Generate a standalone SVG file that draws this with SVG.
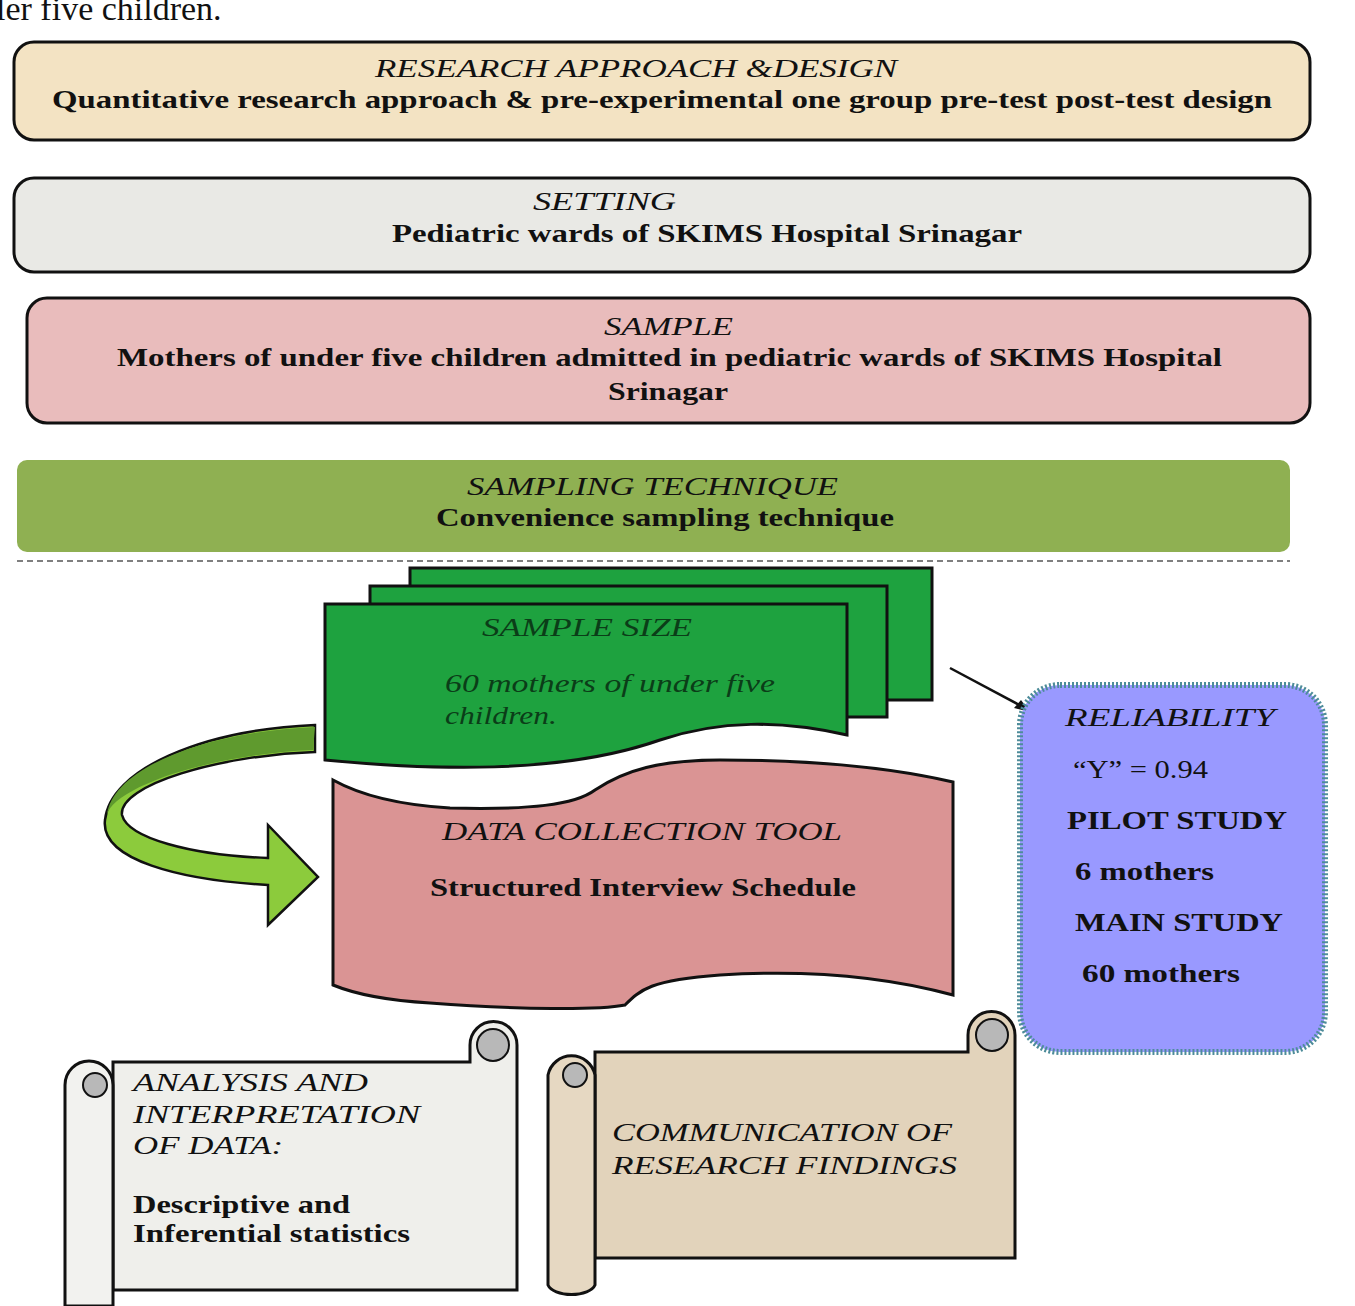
<svg xmlns="http://www.w3.org/2000/svg" width="1355" height="1306" viewBox="0 0 1355 1306">
<style>
text{font-family:"Liberation Serif","Times New Roman",serif;fill:#111;font-size:26px}
.t{font-style:italic}
.b{font-weight:bold}
.box{stroke:#111;stroke-width:3}
</style>
<rect width="1355" height="1306" fill="#fff"/>
<text x="-4" y="20" style="font-size:34px">ler five children.</text>
<g id="approach">
<rect class="box" x="14" y="42" width="1296" height="98" rx="20" fill="#f3e3c3"/>
<text class="t" x="375" y="77" textLength="522" lengthAdjust="spacingAndGlyphs">RESEARCH APPROACH &amp;DESIGN</text>
<text class="b" x="52" y="108" textLength="1220" lengthAdjust="spacingAndGlyphs">Quantitative research approach &amp; pre-experimental one group pre-test post-test design</text>
</g>
<g id="setting">
<rect class="box" x="14" y="178" width="1296" height="94" rx="20" fill="#e9e9e5"/>
<text class="t" x="533" y="210" textLength="143" lengthAdjust="spacingAndGlyphs">SETTING</text>
<text class="b" x="392" y="242" textLength="630" lengthAdjust="spacingAndGlyphs">Pediatric wards of SKIMS Hospital Srinagar</text>
</g>
<g id="sample">
<rect class="box" x="27" y="298" width="1283" height="125" rx="20" fill="#e9bcbc"/>
<text class="t" x="604" y="335" textLength="129" lengthAdjust="spacingAndGlyphs">SAMPLE</text>
<text class="b" x="117" y="366" textLength="1105" lengthAdjust="spacingAndGlyphs">Mothers of under five children admitted in pediatric wards of SKIMS Hospital</text>
<text class="b" x="608" y="400" textLength="120" lengthAdjust="spacingAndGlyphs">Srinagar</text>
</g>
<g id="technique">
<rect x="17" y="460" width="1273" height="92" rx="10" fill="#8fb052"/>
<line x1="17" y1="561" x2="1290" y2="561" stroke="#555" stroke-width="1.5" stroke-dasharray="6,4"/>
<text class="t" x="467" y="495" textLength="371" lengthAdjust="spacingAndGlyphs">SAMPLING TECHNIQUE</text>
<text class="b" x="436" y="526" textLength="458" lengthAdjust="spacingAndGlyphs">Convenience sampling technique</text>
</g>
<g id="samplesize" stroke="#111" stroke-width="3" fill="#1ea23f">
<path d="M410 568H932V700H410Z"/>
<path d="M370 586H887V717H370Z"/>
<path d="M325 604H847V735C780 720 720 720 660 740C560 775 430 770 325 760Z"/>
<text class="t" x="482" y="636" stroke="none" style="fill:#0b3d18" textLength="210" lengthAdjust="spacingAndGlyphs">SAMPLE SIZE</text>
<text class="t" x="445" y="692" stroke="none" style="fill:#0b3d18" textLength="330" lengthAdjust="spacingAndGlyphs">60 mothers of under five</text>
<text class="t" x="445" y="724" stroke="none" style="fill:#0b3d18" textLength="112" lengthAdjust="spacingAndGlyphs">children.</text>
</g>
<g id="datatool">
<path d="M333 780C360 795 400 805 450 808C530 810 575 805 595 790C625 770 660 760 720 760C800 760 880 765 953 782V995C880 975 800 970 720 975C650 980 640 990 625 1005C600 1010 520 1010 430 1003C380 1000 350 992 333 985Z" fill="#da9494" stroke="#111" stroke-width="3"/>
<text class="t" x="442" y="840" textLength="400" lengthAdjust="spacingAndGlyphs">DATA COLLECTION TOOL</text>
<text class="b" x="430" y="896" textLength="426" lengthAdjust="spacingAndGlyphs">Structured Interview Schedule</text>
</g>
<g id="connectors">
<path d="M315 725C200 730 110 770 105 820C100 860 180 880 268 885V925L318 877L268 825V858C190 855 128 838 122 815C118 785 220 755 315 752Z" fill="#8ccb3c" stroke="#111" stroke-width="2.5"/>
<path d="M315 727C200 732 112 770 107 815C112 790 200 755 313 750Z" fill="#5f9a2e"/>
<line x1="950" y1="668" x2="1025" y2="708" stroke="#111" stroke-width="2.5"/>
<path d="M1030 712L1014 708L1021 700Z" fill="#111"/>
</g>
<g id="reliability">
<rect x="1020" y="685" width="305" height="367" rx="40" fill="#9999ff" stroke="#4d8c9a" stroke-width="6" stroke-dasharray="2,2"/>
<text class="t" x="1065" y="726" textLength="210" lengthAdjust="spacingAndGlyphs">RELIABILITY</text>
<text x="1073" y="778" textLength="135" lengthAdjust="spacingAndGlyphs">“Y” = 0.94</text>
<text class="b" x="1067" y="829" textLength="220" lengthAdjust="spacingAndGlyphs">PILOT STUDY</text>
<text class="b" x="1075" y="880" textLength="139" lengthAdjust="spacingAndGlyphs">6 mothers</text>
<text class="b" x="1075" y="931" textLength="208" lengthAdjust="spacingAndGlyphs">MAIN STUDY</text>
<text class="b" x="1082" y="982" textLength="158" lengthAdjust="spacingAndGlyphs">60 mothers</text>
</g>
<g id="analysis" stroke="#111" stroke-width="3">
<path d="M113 1062H470V1045A23 23 0 0 1 517 1045V1290H113Z" fill="#efefeb"/>
<circle cx="493" cy="1045" r="16" fill="#b8b8b8" stroke-width="2"/>
<path d="M65 1085A24 24 0 0 1 113 1085V1306H65Z" fill="#f2f2ef"/>
<circle cx="95" cy="1085" r="12" fill="#b8b8b8" stroke-width="2"/>
<text class="t" x="133" y="1091" stroke="none" textLength="235" lengthAdjust="spacingAndGlyphs">ANALYSIS AND</text>
<text class="t" x="133" y="1123" stroke="none" textLength="287" lengthAdjust="spacingAndGlyphs">INTERPRETATION</text>
<text class="t" x="133" y="1154" stroke="none" textLength="150" lengthAdjust="spacingAndGlyphs">OF DATA:</text>
<text class="b" x="133" y="1213" stroke="none" textLength="217" lengthAdjust="spacingAndGlyphs">Descriptive and</text>
<text class="b" x="133" y="1242" stroke="none" textLength="277" lengthAdjust="spacingAndGlyphs">Inferential statistics</text>
</g>
<g id="communication" stroke="#111" stroke-width="3">
<path d="M595 1052H968V1035A23 23 0 0 1 1015 1035V1258H595Z" fill="#e2d3bb"/>
<circle cx="992" cy="1035" r="16" fill="#b8b8b8" stroke-width="2"/>
<path d="M548 1075A24 24 0 0 1 595 1075V1285A24 12 0 0 1 548 1285Z" fill="#e6d8c2"/>
<circle cx="575" cy="1075" r="12" fill="#b8b8b8" stroke-width="2"/>
<text class="t" x="612" y="1141" stroke="none" textLength="340" lengthAdjust="spacingAndGlyphs">COMMUNICATION OF</text>
<text class="t" x="612" y="1174" stroke="none" textLength="345" lengthAdjust="spacingAndGlyphs">RESEARCH FINDINGS</text>
</g>
</svg>
